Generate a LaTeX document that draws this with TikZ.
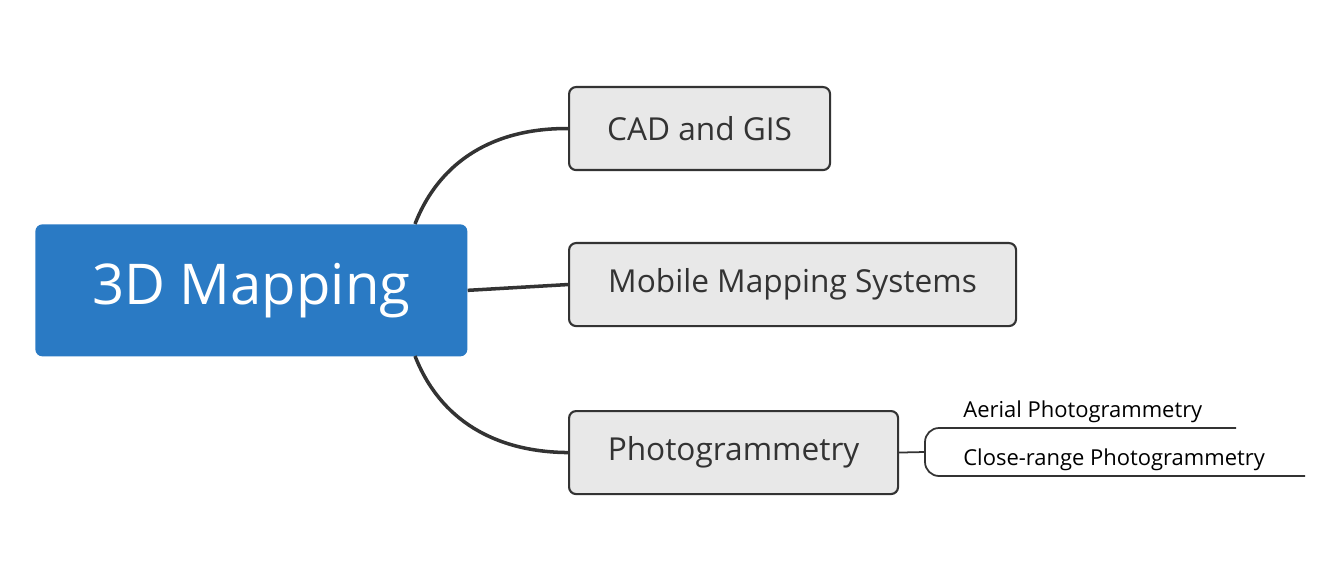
\documentclass[tikz,border=0pt]{standalone}
\usepackage{fontspec}
\setmainfont{Open Sans}
\begin{document}
\begin{tikzpicture}[x=0.02cm,y=-0.02cm,
 box/.style={draw=black!80,line width=1.2pt,fill=black!9,rounded corners=4pt,inner sep=0pt,anchor=north west,text=black!80,font=\fontsize{18}{20}\selectfont},
 con/.style={draw=black!80,line width=2pt},
 sub/.style={anchor=west,inner sep=0pt,font=\fontsize{12.5}{14}\selectfont}]
\useasboundingbox (0,0) rectangle (1342,564);
\node[fill={rgb,255:red,42;green,122;blue,196},rounded corners=4pt,minimum width=432*0.02cm,minimum height=132*0.02cm,anchor=north west,text=white,font=\fontsize{32}{36}\selectfont] (m) at (35,224) {3D Mapping};
\node[box,minimum width=261*0.02cm,minimum height=83*0.02cm] (c) at (568,86) {CAD and GIS};
\node[box,minimum width=447*0.02cm,minimum height=83*0.02cm] (mm) at (568,242) {Mobile Mapping Systems};
\node[box,minimum width=329*0.02cm,minimum height=83*0.02cm] (p) at (568,410) {Photogrammetry};
\coordinate (mt) at (415,224); \coordinate (mb) at (415,356);
\draw[con] (mt) .. controls (440,160) and (495,128) .. (c.west);
\draw[con] (m.east) -- (mm.west);
\draw[con] (mb) .. controls (440,420) and (495,452) .. (p.west);
\node[sub] (a) at (963,412) {Aerial Photogrammetry};
\node[sub] (b) at (963,460) {Close-range Photogrammetry};
\coordinate (j) at (925,452);
\draw[black!80,line width=1pt] (p.east) -- (j);
\draw[black!80,line width=1pt,rounded corners=8pt] (1236,428) -- (925,428) -- (925,476) -- (1305,476);
\end{tikzpicture}
\end{document}
